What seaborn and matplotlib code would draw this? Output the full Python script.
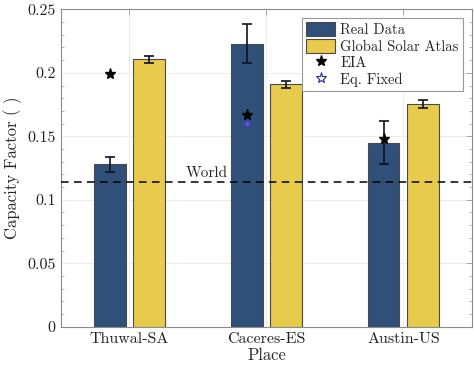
"""
Capacity factor comparison: measured data vs Global Solar Atlas, with EIA points.
"""

import pandas as pd
import numpy as np
import matplotlib
matplotlib.use("Agg")
import matplotlib.pyplot as plt
import seaborn as sns
from matplotlib.patches import Patch
from matplotlib.lines import Line2D
from matplotlib.ticker import MultipleLocator

# data
places = ['Thuwal-SA', 'Caceres-ES', 'Austin-US']
real_cf = [0.128, 0.223, 0.145]
real_err = [0.006, 0.0155, 0.0167]
gsa_cf = [0.2106, 0.1909, 0.1754]
gsa_err = [0.003, 0.003, 0.003]
eia_cf = [0.199, 0.1667, 0.1478]
eq_fixed_cf = [np.nan, 0.1597, np.nan]
world_cf = 0.1137

df = pd.DataFrame({
    'Place': places * 2,
    'Source': ['Real Data'] * 3 + ['Global Solar Atlas'] * 3,
    'CF': real_cf + gsa_cf,
})

sns.set_theme(style="whitegrid")
plt.rcParams['font.family'] = ['serif']
plt.rcParams['font.serif'] = ['cmr10', 'DejaVu Serif']
plt.rcParams['mathtext.fontset'] = 'cm'
plt.rcParams['axes.formatter.use_mathtext'] = True

blue = '#2f5079'
yellow = '#e8ca4c'

fig = plt.figure(figsize=(4.74, 3.72), dpi=100)
ax = fig.add_axes([0.1287, 0.1218, 0.867, 0.853])

sns.barplot(data=df, x='Place', y='CF', hue='Source',
            palette=[blue, yellow], width=0.58, gap=0.2,
            errorbar=None, legend=False, ax=ax, saturation=1,
            edgecolor='#4a4a4a', linewidth=0.8)

# error bars and markers at bar centres
errs = [real_err, gsa_err]
centers = []
for cont, err in zip(ax.containers, errs):
    xs = [p.get_x() + p.get_width() / 2 for p in cont.patches]
    ys = [p.get_height() for p in cont.patches]
    centers.append(xs)
    ax.errorbar(xs, ys, yerr=err, fmt='none', ecolor='#111122',
                elinewidth=1.2, capsize=3.5, capthick=1.2, zorder=4)

ax.plot(centers[0], eq_fixed_cf, linestyle='none', marker='*', ms=8,
        mfc='#5a5ad0', mec='#3a3aa0', mew=0.6, zorder=5)
ax.plot(centers[0], eia_cf, linestyle='none', marker='*', ms=8,
        color='black', zorder=6)

ax.axhline(world_cf, color='black', linestyle=(0, (5, 3.5)), linewidth=1.1, zorder=3)
ax.text(0.41, world_cf + 0.0015, 'World', fontsize=11, ha='left', va='bottom')

ax.set_xlim(-0.5, 2.5)
ax.set_ylim(0, 0.25)
ax.yaxis.set_major_locator(MultipleLocator(0.05))
ax.yaxis.set_minor_locator(MultipleLocator(0.01))
ax.set_yticks([0, 0.05, 0.1, 0.15, 0.2, 0.25])
ax.set_yticklabels(['0', '0.05', '0.1', '0.15', '0.2', '0.25'])
ax.set_xlabel('Place', fontsize=12, labelpad=1)
ax.set_ylabel('Capacity Factor ( )', fontsize=12, labelpad=4)

ax.set_facecolor('white')
ax.grid(True, color='#ececec', linewidth=0.7)
ax.set_axisbelow(True)
for s in ax.spines.values():
    s.set_color('#8c8c8c')
    s.set_linewidth(0.8)
ax.tick_params(axis='both', which='both', direction='in', top=True, right=True,
               color='#9a9a9a', labelsize=11.5, labelcolor='#222222')
ax.tick_params(axis='both', which='major', length=4, width=0.6, pad=4)
ax.tick_params(axis='y', which='minor', length=2, width=0.5, left=True, right=True)

handles = [
    Patch(facecolor=blue, edgecolor='#4a4a4a', linewidth=0.8, label='Real Data'),
    Patch(facecolor=yellow, edgecolor='#4a4a4a', linewidth=0.8, label='Global Solar Atlas'),
    Line2D([], [], linestyle='none', marker='*', ms=8, color='black', label='EIA'),
    Line2D([], [], linestyle='none', marker='*', ms=8, mfc='none', mec='#2a2a9a',
           mew=0.8, label='Eq. Fixed'),
]
leg = ax.legend(handles=handles, loc='upper right', fontsize=10.5, frameon=True,
                fancybox=False, edgecolor='#999999', framealpha=1,
                handlelength=2.0, handleheight=1.1, handletextpad=0.35,
                borderpad=0.3, labelspacing=0.1, borderaxespad=0.6)
leg.get_frame().set_linewidth(0.8)

fig.savefig('out.png', dpi=100, facecolor='white')
